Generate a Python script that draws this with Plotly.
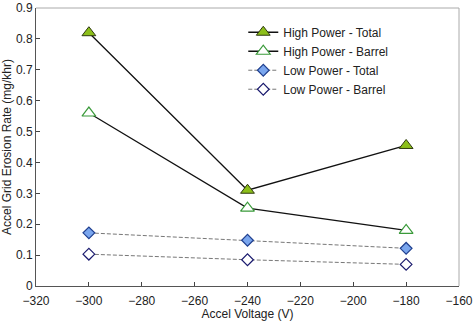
import plotly.graph_objects as go

voltage = [-300, -240, -180]
hp_total = [0.82, 0.31, 0.455]
hp_barrel = [0.56, 0.252, 0.18]
lp_total = [0.172, 0.148, 0.122]
lp_barrel = [0.103, 0.085, 0.07]
names = ["High Power - Total", "High Power - Barrel", "Low Power - Total", "Low Power - Barrel"]
x_ticks = [-320, -300, -280, -260, -240, -220, -200, -180, -160]
y_ticks = [0, 0.1, 0.2, 0.3, 0.4, 0.5, 0.6, 0.7, 0.8, 0.9]

fig = go.Figure()
styles = [
    (hp_total, dict(symbol="triangle-up", size=12, color="#8cbf1a", line=dict(color="#2f3a10", width=1)), dict(color="#111111", width=1.3)),
    (hp_barrel, dict(symbol="triangle-up", size=12, color="white", line=dict(color="#3a9a3a", width=1.2)), dict(color="#111111", width=1.3)),
    (lp_total, dict(symbol="diamond", size=9, color="#7aa6ee", line=dict(color="#1f3f8f", width=1.2)), dict(color="#777777", width=1, dash="4px,2px")),
    (lp_barrel, dict(symbol="diamond", size=9, color="white", line=dict(color="#1a1a6e", width=1.2)), dict(color="#777777", width=1, dash="4px,2px")),
]
for (vals, mk, ln), nm in zip(styles, names):
    fig.add_trace(go.Scatter(x=voltage, y=vals, mode="lines+markers", name=nm, marker=mk, line=ln, cliponaxis=False))

fig.update_layout(
    width=474, height=321,
    margin=dict(l=36, r=15, t=8, b=35),
    paper_bgcolor="white", plot_bgcolor="white",
    font=dict(family="Liberation Sans, Arial", size=12, color="#222222"),
    legend=dict(x=0.49, y=0.965, xanchor="left", yanchor="top", bgcolor="rgba(0,0,0,0)",
                font=dict(size=12), itemwidth=30, tracegroupgap=0),
    showlegend=True,
)
fig.update_xaxes(range=[-320, -160], tickvals=x_ticks, ticks="inside", ticklen=4,
                 showgrid=False, zeroline=False, showline=True, linecolor="#555555", mirror=False,
                 ticklabelstandoff=4, ticklabeloverflow="allow", automargin=False,
                 title=dict(text="Accel Voltage (V)", standoff=4, font=dict(size=12)))
fig.update_yaxes(range=[0, 0.9], tickvals=y_ticks, ticktext=["0"] + [f"{v:.1f}" for v in y_ticks[1:]],
                 ticks="inside", ticklen=4, showgrid=False, zeroline=False, showline=True,
                 ticklabeloverflow="allow", automargin=False,
                 linecolor="#555555", title=dict(text="Accel Grid Erosion Rate (mg/khr)", standoff=2, font=dict(size=12)))
fig.add_shape(type="line", xref="paper", yref="paper", x0=0, x1=1, y0=1, y1=1, line=dict(color="#aaaaaa", width=1))
fig.add_shape(type="line", xref="paper", yref="paper", x0=1, x1=1, y0=0, y1=1, line=dict(color="#aaaaaa", width=1))

fig.write_html("out.html")
